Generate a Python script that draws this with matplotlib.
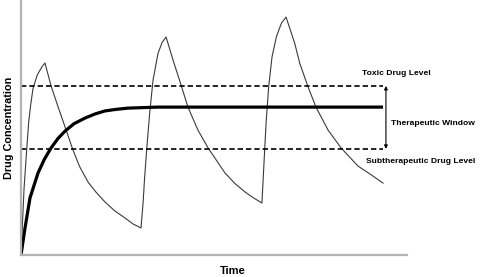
import matplotlib
matplotlib.use("Agg")
import matplotlib.pyplot as plt

# ---- data (time in hours, concentration in arbitrary units) ----
dose_time = [0, 0.19, 0.33, 0.48, 0.60, 0.75, 1.01, 1.31, 1.49, 1.87, 2.30, 2.74, 3.23,
             3.65, 4.17, 4.67, 5.22, 5.83, 6.47, 6.96, 7.46,
             7.59, 7.69, 7.83, 8.00, 8.21, 8.52, 8.77, 9.02, 9.45, 9.95, 10.38, 11.00,
             11.63, 12.68, 13.29, 13.93, 14.43, 14.98,
             15.15, 15.25, 15.40, 15.61, 15.88, 16.19, 16.48, 17.02, 17.33, 17.85, 18.34,
             19.09, 19.90, 20.95, 21.78, 22.51]
dose_conc = [0, 26.1, 39.2, 52.3, 58.8, 65.4, 70.6, 73.9, 75.3, 66.3, 58.2, 50.2, 41.2,
             34.6, 28.6, 24.6, 20.8, 17.3, 14.5, 12.2, 10.6,
             20.4, 30.7, 42.5, 55.6, 68.6, 79.1, 83.3, 85.5, 76.5, 66.7, 58.0, 49.0,
             42.0, 32.2, 28.1, 24.7, 22.5, 20.4,
             41.2, 52.9, 66.0, 77.8, 85.6, 90.9, 93.3, 83.0, 75.2, 65.9, 58.0,
             49.0, 42.0, 34.9, 31.4, 28.2]

steady_time = [0, 0.25, 0.56, 1.06, 1.45, 1.87, 2.30, 2.74, 3.30, 3.98, 4.60, 5.22,
               5.90, 6.65, 8.52, 22.51]
steady_conc = [0, 10.6, 22.4, 32.2, 37.5, 42.0, 45.7, 48.6, 51.5, 53.7, 55.3, 56.5,
               57.1, 57.6, 58.0, 58.0]

toxic_level = 66.3
subtherapeutic_level = 41.6
line_end = 22.51
arrow_time = 22.69

labels = {
    "toxic": "Toxic Drug Level",
    "window": "Therapeutic Window",
    "sub": "Subtherapeutic Drug Level",
    "x": "Time",
    "y": "Drug Concentration",
}

fam = ["Liberation Sans", "DejaVu Sans"]

fig = plt.figure(figsize=(4.8, 2.77), dpi=100)
ax = fig.add_axes([21/480, 22/277, 386/480, 255/277])
ax.set_xlim(0, 24)
ax.set_ylim(0, 100)

ax.plot(dose_time, dose_conc, color="#3a3a3a", lw=0.8, solid_joinstyle="round")
ax.plot(steady_time, steady_conc, color="black", lw=2.3, solid_capstyle="butt",
        solid_joinstyle="round")
ax.plot([0, line_end], [toxic_level, toxic_level], color="black", lw=1.2,
        dashes=(3.2, 1.8))
ax.plot([0, line_end], [subtherapeutic_level, subtherapeutic_level], color="black", lw=1.2,
        dashes=(3.2, 1.8))
ax.annotate("", xy=(arrow_time, toxic_level), xytext=(arrow_time, subtherapeutic_level),
            arrowprops=dict(arrowstyle="<|-|>", color="black", lw=0.8,
                            mutation_scale=5, shrinkA=0, shrinkB=0),
            annotation_clip=False)

tk = dict(fontsize=6.1, fontweight="bold", family=fam, clip_on=False, va="center")
ax.text(23.32, 71.0, labels["toxic"], ha="center", **tk)
ax.text(23.0, 51.4, labels["window"], ha="left", **tk)
ax.text(24.85, 36.5, labels["sub"], ha="center", **tk)

for s in ["top", "right"]:
    ax.spines[s].set_visible(False)
for s in ["left", "bottom"]:
    ax.spines[s].set_color("#b3b3b3")
    ax.spines[s].set_linewidth(1.6)
ax.set_xticks([])
ax.set_yticks([])

fig.text(9/480, 1 - 128/277, labels["y"], rotation=90, ha="center", va="center",
         fontsize=7.8, fontweight="bold", family=fam)
fig.text(233/480, 1 - 271/277, labels["x"], ha="center", va="center",
         fontsize=8, fontweight="bold", family=fam)

fig.savefig("out.png", dpi=100, facecolor="white")
